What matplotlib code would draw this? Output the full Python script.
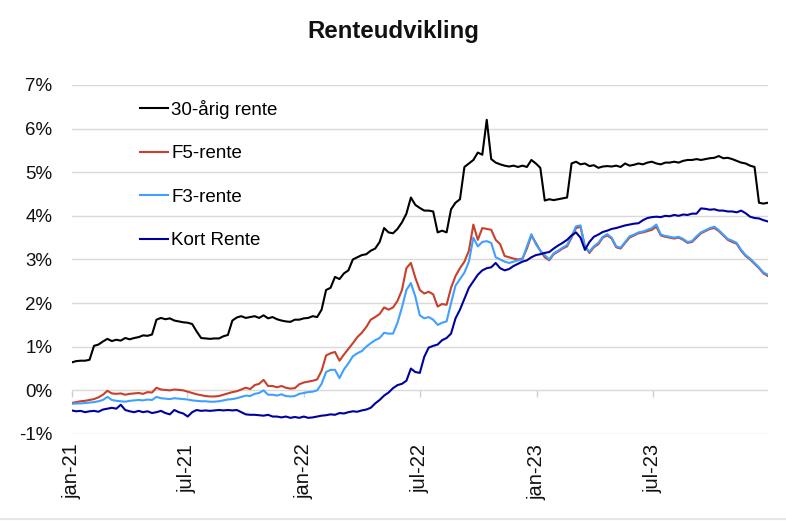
import numpy as np
import pandas as pd
import matplotlib
matplotlib.use("Agg")
import matplotlib.pyplot as plt
from matplotlib.ticker import FuncFormatter

dates = pd.date_range("2021-01-01", periods=157, freq="7D")

rente_30 = [
    0.64, 0.67, 0.68, 0.68, 0.70, 1.02, 1.05, 1.12, 1.18, 1.13,
    1.16, 1.14, 1.20, 1.17, 1.20, 1.22, 1.26, 1.25, 1.28, 1.62,
    1.66, 1.63, 1.65, 1.60, 1.58, 1.56, 1.55, 1.52, 1.35, 1.20,
    1.19, 1.18, 1.19, 1.19, 1.24, 1.27, 1.60, 1.67, 1.70, 1.66,
    1.68, 1.70, 1.66, 1.72, 1.65, 1.68, 1.63, 1.60, 1.58, 1.57,
    1.62, 1.62, 1.65, 1.66, 1.70, 1.68, 1.85, 2.30, 2.35, 2.60,
    2.55, 2.68, 2.75, 3.00, 3.05, 3.10, 3.12, 3.20, 3.25, 3.40,
    3.72, 3.62, 3.60, 3.70, 3.85, 4.05, 4.42, 4.25, 4.18, 4.12,
    4.12, 4.10, 3.62, 3.66, 3.62, 4.15, 4.30, 4.38, 5.12, 5.20,
    5.28, 5.45, 5.40, 6.20, 5.30, 5.22, 5.18, 5.15, 5.13, 5.15,
    5.12, 5.15, 5.12, 5.28, 5.20, 5.10, 4.35, 4.38, 4.36, 4.38,
    4.40, 4.42, 5.20, 5.24, 5.18, 5.20, 5.14, 5.16, 5.10, 5.13,
    5.14, 5.13, 5.15, 5.12, 5.20, 5.15, 5.17, 5.20, 5.18, 5.22,
    5.24, 5.20, 5.18, 5.22, 5.22, 5.24, 5.22, 5.26, 5.28, 5.28,
    5.30, 5.28, 5.30, 5.32, 5.33, 5.37, 5.32, 5.33, 5.30, 5.26,
    5.22, 5.20, 5.15, 5.12, 4.30, 4.28, 4.30,
]

f5_rente = [
    -0.29, -0.27, -0.25, -0.24, -0.22, -0.20, -0.16, -0.10, -0.01, -0.07,
    -0.08, -0.07, -0.10, -0.08, -0.07, -0.06, -0.08, -0.04, -0.05, 0.06,
    0.02, 0.01, 0.00, 0.02, 0.01, 0.00, -0.03, -0.06, -0.09, -0.11,
    -0.13, -0.14, -0.14, -0.13, -0.10, -0.07, -0.04, -0.02, 0.02, 0.06,
    0.03, 0.12, 0.15, 0.24, 0.10, 0.10, 0.07, 0.10, 0.06, 0.04,
    0.05, 0.14, 0.18, 0.20, 0.22, 0.25, 0.45, 0.80, 0.85, 0.88,
    0.68, 0.82, 0.95, 1.08, 1.22, 1.32, 1.45, 1.62, 1.68, 1.75,
    1.90, 1.85, 1.90, 2.05, 2.30, 2.80, 2.92, 2.58, 2.30, 2.22,
    2.26, 2.20, 1.92, 1.98, 1.96, 2.35, 2.62, 2.80, 2.95, 3.20,
    3.80, 3.45, 3.72, 3.70, 3.68, 3.45, 3.35, 3.08, 3.05, 3.02,
    3.00, 3.02, 3.25, 3.55, 3.38, 3.20, 3.05, 2.98, 3.12, 3.18,
    3.25, 3.30, 3.50, 3.72, 3.75, 3.30, 3.15, 3.28, 3.35, 3.50,
    3.55, 3.48, 3.28, 3.25, 3.38, 3.50, 3.55, 3.60, 3.62, 3.65,
    3.68, 3.75, 3.55, 3.52, 3.50, 3.48, 3.50, 3.45, 3.38, 3.40,
    3.50, 3.60, 3.65, 3.70, 3.72, 3.65, 3.55, 3.45, 3.40, 3.36,
    3.20, 3.08, 3.00, 2.90, 2.80, 2.68, 2.62,
]

f3_rente = [
    -0.31, -0.30, -0.30, -0.29, -0.28, -0.27, -0.25, -0.22, -0.15, -0.22,
    -0.24, -0.25, -0.26, -0.24, -0.23, -0.22, -0.23, -0.21, -0.22, -0.15,
    -0.18, -0.19, -0.20, -0.18, -0.19, -0.20, -0.21, -0.23, -0.24, -0.25,
    -0.25, -0.26, -0.26, -0.25, -0.23, -0.21, -0.20, -0.18, -0.15, -0.12,
    -0.13, -0.08, -0.06, 0.00, -0.10, -0.10, -0.12, -0.09, -0.13, -0.14,
    -0.13, -0.08, -0.06, -0.04, -0.03, 0.00, 0.15, 0.42, 0.47, 0.47,
    0.28, 0.48, 0.62, 0.78, 0.85, 0.90, 1.00, 1.08, 1.15, 1.20,
    1.32, 1.30, 1.30, 1.55, 1.90, 2.30, 2.46, 2.15, 1.72, 1.65,
    1.68, 1.62, 1.50, 1.55, 1.58, 2.00, 2.40, 2.55, 2.70, 2.95,
    3.50, 3.30, 3.40, 3.42, 3.38, 3.05, 3.00, 2.95, 2.92, 2.95,
    2.98, 3.00, 3.30, 3.58, 3.35, 3.20, 3.10, 3.00, 3.14, 3.20,
    3.27, 3.33, 3.53, 3.76, 3.78, 3.28, 3.18, 3.30, 3.38, 3.52,
    3.58, 3.50, 3.30, 3.27, 3.40, 3.53, 3.57, 3.62, 3.64, 3.68,
    3.72, 3.80, 3.57, 3.54, 3.52, 3.50, 3.52, 3.47, 3.40, 3.42,
    3.53, 3.62, 3.67, 3.72, 3.75, 3.67, 3.57, 3.47, 3.43, 3.38,
    3.22, 3.10, 3.02, 2.92, 2.82, 2.70, 2.65,
]

kort_rente = [
    -0.46, -0.48, -0.47, -0.50, -0.48, -0.47, -0.49, -0.44, -0.42, -0.40,
    -0.42, -0.33, -0.45, -0.48, -0.50, -0.47, -0.50, -0.48, -0.52, -0.50,
    -0.47, -0.52, -0.55, -0.45, -0.50, -0.53, -0.60, -0.50, -0.45, -0.47,
    -0.46, -0.47, -0.46, -0.45, -0.46, -0.45, -0.46, -0.45, -0.50, -0.55,
    -0.56, -0.56, -0.57, -0.58, -0.56, -0.60, -0.60, -0.62, -0.60, -0.63,
    -0.61, -0.63, -0.60, -0.63, -0.62, -0.60, -0.58, -0.57, -0.55, -0.56,
    -0.52, -0.53, -0.50, -0.48, -0.49, -0.46, -0.44, -0.40, -0.30, -0.22,
    -0.12, -0.05, 0.05, 0.12, 0.15, 0.22, 0.50, 0.42, 0.40, 0.77,
    0.98, 1.02, 1.05, 1.15, 1.20, 1.30, 1.65, 1.85, 2.10, 2.35,
    2.50, 2.65, 2.75, 2.80, 2.82, 2.92, 2.80, 2.75, 2.78, 2.85,
    2.90, 2.95, 2.98, 3.05, 3.10, 3.12, 3.15, 3.17, 3.25, 3.32,
    3.38, 3.45, 3.55, 3.62, 3.50, 3.22, 3.40, 3.52, 3.57, 3.63,
    3.66, 3.70, 3.72, 3.75, 3.78, 3.80, 3.82, 3.83, 3.90, 3.95,
    3.97, 3.98, 3.97, 4.00, 3.99, 4.02, 4.00, 4.03, 4.02, 4.05,
    4.05, 4.17, 4.16, 4.14, 4.15, 4.12, 4.12, 4.10, 4.10, 4.08,
    4.12, 4.06, 3.98, 3.95, 3.94, 3.90, 3.87,
]

labels = ["30-årig rente", "F5-rente", "F3-rente", "Kort Rente"]
colors = ["#000000", "#c8402a", "#3fa0ff", "#00009e"]

plt.rcParams["font.family"] = ["Liberation Sans", "DejaVu Sans"]

fig = plt.figure(figsize=(7.86, 5.21), dpi=100)
ax = fig.add_axes([0.0912, 0.167, 0.8858, 0.67])

for vals, lab, col in zip([rente_30, f5_rente, f3_rente, kort_rente], labels, colors):
    ax.plot(dates, vals, color=col, lw=1.5, label=lab)

ax.set_ylim(-1, 7)
ax.set_xlim(dates[0], dates[-1])
ax.set_yticks(np.arange(-1, 8, 1))
ax.yaxis.set_major_formatter(FuncFormatter(lambda v, p: f"{v:.0f}%"))
ax.grid(axis="y", color="#d9d9d9", lw=1)
ax.set_axisbelow(True)
for s in ax.spines.values():
    s.set_visible(False)

# x ticks every six months, labels at the bottom
ticks = pd.date_range("2021-01-01", "2023-07-01", freq="6MS")
ax.set_xticks(ticks)
ax.set_xticklabels([d.strftime("%b-%y").lower() for d in ticks],
                   rotation=90, fontsize=14.5, color="#111111")
ax.tick_params(axis="x", length=0, pad=7)
ax.tick_params(axis="y", length=0, labelsize=13.5, labelcolor="#111111", pad=14)

# small tick marks on the zero line
sec = ax.secondary_xaxis(0, transform=ax.transData)
sec.set_xticks(ticks)
sec.set_xticklabels([])
sec.tick_params(axis="x", length=5, color="#d0d0d0", width=1)
sec.spines["bottom"].set_visible(False)

leg = ax.legend(loc="upper left", bbox_to_anchor=(0.074, 1.005), frameon=False,
                fontsize=13.5, handlelength=1.5, handletextpad=0.15,
                labelspacing=1.4)

fig.text(0.5, 0.94, "Renteudvikling", ha="center", va="center",
         fontsize=17.3, fontweight="bold", color="#111111")

fig.add_artist(plt.Line2D([0, 1], [0.003, 0.003], color="#e6e6e6", lw=1.5,
                          transform=fig.transFigure))

fig.savefig("out.png", dpi=100)
